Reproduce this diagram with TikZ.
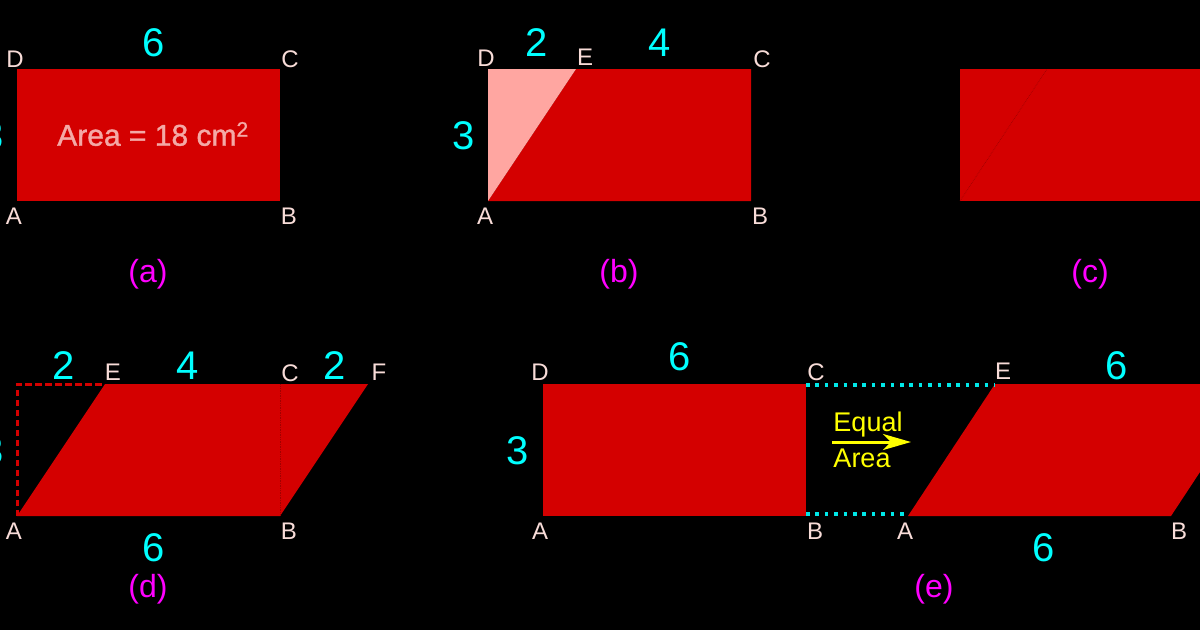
\documentclass[tikz,border=0pt]{standalone}
\usepackage{fontspec}
\usetikzlibrary{arrows.meta}
\setmainfont{Liberation Sans}
\newfontfamily\areafont[FakeBold=1.2]{Liberation Sans}
\definecolor{shapered}{HTML}{D40000}
\definecolor{seamred}{HTML}{A00000}
\definecolor{cutpink}{HTML}{FFA6A1}
\definecolor{ptpink}{HTML}{F8DCD8}
\definecolor{areapink}{HTML}{F4A9A6}
\definecolor{lencyan}{HTML}{00FFFF}
\definecolor{figmagenta}{HTML}{FF00FF}
\definecolor{eqyellow}{HTML}{FFFF00}
\definecolor{dotcyan}{HTML}{00E8E8}
\begin{document}
\begin{tikzpicture}
    [x=1pt,y=-1pt,
     pt/.style={text=ptpink,font=\fontsize{24}{24}\selectfont,inner sep=0pt},
     len/.style={text=lencyan,font=\fontsize{40}{40}\selectfont,inner sep=0pt},
     fig/.style={text=figmagenta,font=\fontsize{32}{32}\selectfont,inner sep=0pt},
     eq/.style={text=eqyellow,font=\fontsize{27}{27}\selectfont,inner sep=0pt},
     cut/.style={dash pattern=on 6.5pt off 3.5pt,line width=3pt,draw=shapered},
     dots/.style={dash pattern=on 3.5pt off 5.9pt,line width=3.5pt,draw=dotcyan},
     seam/.style={densely dotted,line width=0.7pt,draw=seamred},
     go/.style={-{Stealth[length=28pt,width=16pt,inset=8pt]},line width=3pt,draw=eqyellow}]
    \useasboundingbox (0,0) rectangle (1200,630);
    \clip (0,0) rectangle (1200,630);
    \fill [black] (0,0) rectangle (1200,630);
    % (a)
    \coordinate (aA) at (17,201);
    \coordinate (aB) at (280,201);
    \coordinate (aC) at (280,69);
    \coordinate (aD) at (17,69);
    \fill [shapered] (aA) -- (aB) -- (aC) -- (aD) -- cycle;
    \node [pt] (aDl) at (15,59) {D};
    \node [pt] (aCl) at (290,59) {C};
    \node [pt] (aAl) at (14,216) {A};
    \node [pt] (aBl) at (289,216) {B};
    \node [len] (a6) at (154,43) {6};
    \node [len] (a3) at (-7,136) {3};
    \node [text=areapink,font=\areafont\fontsize{30}{30}\selectfont,inner sep=0pt] (aarea) at (153,134) {Area = 18 cm\textsuperscript{2}};
    \node [fig] (acap) at (148,274) {(a)};
    % (b)
    \coordinate (bA) at (488,201);
    \coordinate (bB) at (751,201);
    \coordinate (bC) at (751,69);
    \coordinate (bD) at (488,69);
    \coordinate (bE) at (576,69);
    \fill [shapered] (bA) -- (bB) -- (bC) -- (bE) -- cycle;
    \fill [cutpink] (bA) -- (bE) -- (bD) -- cycle;
    \node [pt] (bDl) at (486,58) {D};
    \node [pt] (bEl) at (585,57) {E};
    \node [pt] (bCl) at (762,59) {C};
    \node [pt] (bAl) at (485,216) {A};
    \node [pt] (bBl) at (760,216) {B};
    \node [len] (b2) at (537,43) {2};
    \node [len] (b4) at (660,43) {4};
    \node [len] (b3) at (464,136) {3};
    \node [fig] (bcap) at (619,274) {(b)};
    % (c)
    \coordinate (cA) at (960,201);
    \coordinate (cB) at (1223,201);
    \coordinate (cC) at (1223,69);
    \coordinate (cD) at (960,69);
    \coordinate (cE) at (1047,69);
    \fill [shapered] (cA) -- (cB) -- (cC) -- (cD) -- cycle;
    \draw [seam] (cA) -- (cE);
    \node [fig] (ccap) at (1090,274) {(c)};
    % (d)
    \coordinate (dA) at (17,516);
    \coordinate (dB) at (280,516);
    \coordinate (dC) at (280,384);
    \coordinate (dD) at (17,384);
    \coordinate (dE) at (105,384);
    \coordinate (dF) at (368,384);
    \fill [shapered] (dA) -- (dB) -- (dF) -- (dE) -- cycle;
    \draw [seam] (dB) -- (dC);
    \draw [cut] (dA) -- (dD) -- (dE);
    \node [len] (d2) at (64,366) {2};
    \node [pt] (dEl) at (113,372) {E};
    \node [len] (d4) at (188,366) {4};
    \node [pt] (dCl) at (290,373) {C};
    \node [len] (d2r) at (335,366) {2};
    \node [pt] (dFl) at (379,372) {F};
    \node [pt] (dAl) at (14,531) {A};
    \node [pt] (dBl) at (289,531) {B};
    \node [len] (d6) at (154,548) {6};
    \node [len] (d3) at (-7,451) {3};
    \node [fig] (dcap) at (148,589) {(d)};
    % (e)
    \coordinate (eA) at (543,516);
    \coordinate (eB) at (806,516);
    \coordinate (eC) at (806,384);
    \coordinate (eD) at (543,384);
    \coordinate (fA) at (908,516);
    \coordinate (fB) at (1171,516);
    \coordinate (fF) at (1258,384);
    \coordinate (fE) at (995,384);
    \coordinate (goA) at (832,442);
    \coordinate (goB) at (911,442);
    \fill [shapered] (eA) -- (eB) -- (eC) -- (eD) -- cycle;
    \fill [shapered] (fA) -- (fB) -- (fF) -- (fE) -- cycle;
    \draw [dots] ([yshift=-1pt]eC) -- ([yshift=-1pt]fE);
    \draw [dots] ([yshift=2pt]eB) -- ([yshift=2pt]fA);
    \draw [go] (goA) -- (goB);
    \node [pt] (eDl) at (540,372) {D};
    \node [pt] (eCl) at (816,372) {C};
    \node [pt] (fEl) at (1003,371) {E};
    \node [pt] (eAl) at (540,531) {A};
    \node [pt] (eBl) at (815,531) {B};
    \node [pt] (fAl) at (905,531) {A};
    \node [pt] (fBl) at (1179,531) {B};
    \node [len] (e6) at (680,357) {6};
    \node [len] (e3) at (518,451) {3};
    \node [len] (f6t) at (1117,366) {6};
    \node [len] (f6b) at (1044,548) {6};
    \node [eq] (eqtop) at (868,425) {Equal};
    \node [eq] (eqbot) at (862,458) {Area};
    \node [fig] (ecap) at (934,589) {(e)};
  \end{tikzpicture}
\end{document}
